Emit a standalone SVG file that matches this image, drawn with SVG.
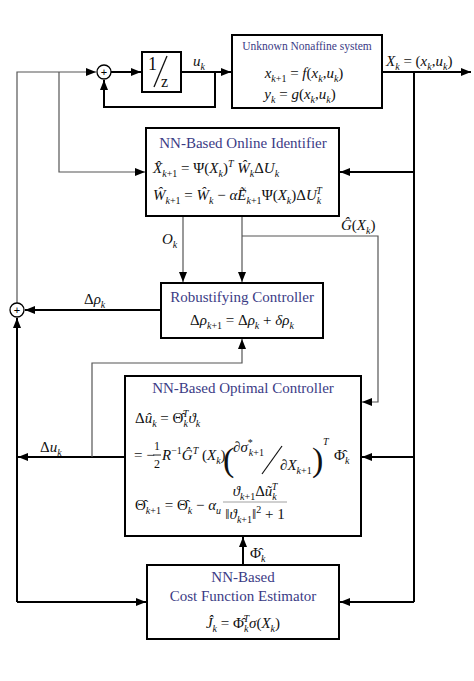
<svg xmlns="http://www.w3.org/2000/svg" width="474" height="681" viewBox="0 0 474 681">
<defs>
<marker id="a" viewBox="0 0 10 8" refX="10" refY="4" markerWidth="10" markerHeight="8" orient="auto" markerUnits="userSpaceOnUse"><path d="M0,0 L10,4 L0,8 z" fill="#000"/></marker>
</defs>
<style>
.ln{fill:none;stroke:#000;stroke-width:2}
.gl{fill:none;stroke:#555;stroke-width:1.2}
.bx{fill:#fff;stroke:#000;stroke-width:2}
.sum{fill:#fff;stroke:#000;stroke-width:1.3}
.t{font-family:"Liberation Serif","Times New Roman",serif;font-size:15px;fill:#3b3b85}
.m{font-family:"Liberation Serif","Times New Roman",serif;font-size:15px;fill:#111}
.i{font-style:italic}
.sb{font-size:10px;baseline-shift:-4px}
.sp{font-size:10px;baseline-shift:6px}
</style>
<rect width="474" height="681" fill="#fff"/>

<g id="connectors">
<path class="ln" d="M111,72 H141" marker-end="url(#a)"/>
<path class="ln" d="M181,72 H231" marker-end="url(#a)"/>
<path class="ln" d="M215,72 V107 H104 V80" marker-end="url(#a)"/>
<path class="ln" d="M382,72 H471" marker-end="url(#a)"/>
<path class="ln" d="M414,72 V602"/>
<path class="ln" d="M414,172 H340" marker-end="url(#a)"/>
<path class="ln" d="M414,457 H362" marker-end="url(#a)"/>
<path class="ln" d="M414,602 H340" marker-end="url(#a)"/>
<path class="ln" d="M161,310 H25" marker-end="url(#a)"/>
<path class="ln" d="M125,457 H18" marker-end="url(#a)"/>
<path class="ln" d="M17,602 V318" marker-end="url(#a)"/>
<path class="ln" d="M17,602 H146" marker-end="url(#a)"/>
<path class="ln" d="M243,565 V537" marker-end="url(#a)"/>
<path class="gl" d="M17,303 V72 H96" marker-end="url(#a)"/>
<path class="gl" d="M59,72 V172 H145" marker-end="url(#a)"/>
<path class="gl" d="M183,216 V282" marker-end="url(#a)"/>
<path class="gl" d="M242,216 V282" marker-end="url(#a)"/>
<path class="gl" d="M242,236 H378 V402 H362" marker-end="url(#a)"/>
<path class="gl" d="M92,457 V363 H242 V339" marker-end="url(#a)"/>
<text class="m i" x="193" y="66">u<tspan class="sb">k</tspan></text>
<text class="m" x="386" y="66"><tspan class="i">X</tspan><tspan class="sb i">k</tspan> = (<tspan class="i">x</tspan><tspan class="sb i">k</tspan>,<tspan class="i">u</tspan><tspan class="sb i">k</tspan>)</text>
<text class="m" x="162" y="244"><tspan class="i">O</tspan><tspan class="sb i">k</tspan></text>
<text class="m" x="341" y="230"><tspan class="i">G&#x302;</tspan>(<tspan class="i">X</tspan><tspan class="sb i">k</tspan>)</text>
<text class="m" x="84" y="304">Δ<tspan class="i">ρ</tspan><tspan class="sb i">k</tspan></text>
<text class="m" x="40" y="452">Δ<tspan class="i">u</tspan><tspan class="sb i">k</tspan></text>
<text class="m" x="250" y="558">Φ&#x302;<tspan class="sb i">k</tspan></text>
</g>

<g id="sum1">
<circle class="sum" cx="104" cy="72" r="7"/>
<text x="104" y="76" text-anchor="middle" font-family="Liberation Sans, Arial, sans-serif" font-size="11" fill="#000">+</text>
</g>

<g id="sum2">
<circle class="sum" cx="17" cy="310" r="7"/>
<text x="17" y="314" text-anchor="middle" font-family="Liberation Sans, Arial, sans-serif" font-size="11" fill="#000">+</text>
</g>

<g id="delay">
<rect class="bx" x="142" y="52" width="39" height="40"/>
<text class="m" x="148" y="70" style="font-size:18px">1</text>
<line x1="167" y1="56" x2="154" y2="87" stroke="#111" stroke-width="1.3"/>
<text class="m" x="161" y="87" style="font-size:16px">z</text>
</g>

<g id="system">
<rect class="bx" x="232" y="35" width="150" height="73"/>
<text class="t" x="307" y="50" text-anchor="middle" style="font-size:11.5px">Unknown Nonaffine system</text>
<text class="m" x="304" y="78" text-anchor="middle"><tspan class="i">x</tspan><tspan class="sb"><tspan class="i">k</tspan>+1</tspan> = <tspan class="i">f</tspan>(<tspan class="i">x</tspan><tspan class="sb i">k</tspan>,<tspan class="i">u</tspan><tspan class="sb i">k</tspan>)</text>
<text class="m" x="300" y="99" text-anchor="middle"><tspan class="i">y</tspan><tspan class="sb i">k</tspan> = <tspan class="i">g</tspan>(<tspan class="i">x</tspan><tspan class="sb i">k</tspan>,<tspan class="i">u</tspan><tspan class="sb i">k</tspan>)</text>
</g>

<g id="identifier">
<rect class="bx" x="146" y="128" width="193" height="88"/>
<text class="t" x="243" y="148" text-anchor="middle">NN-Based Online Identifier</text>
<text class="m" x="153" y="173"><tspan class="i">X&#x302;</tspan><tspan class="sb"><tspan class="i">k</tspan>+1</tspan> = Ψ(<tspan class="i">X</tspan><tspan class="sb i">k</tspan>)<tspan class="sp i">T</tspan> <tspan class="i">W&#x302;</tspan><tspan class="sb i">k</tspan>Δ<tspan class="i">U</tspan><tspan class="sb i">k</tspan></text>
<text class="m" x="153" y="200"><tspan class="i">W&#x302;</tspan><tspan class="sb"><tspan class="i">k</tspan>+1</tspan> = <tspan class="i">W&#x302;</tspan><tspan class="sb i">k</tspan> − <tspan class="i">αE&#x303;</tspan><tspan class="sb"><tspan class="i">k</tspan>+1</tspan>Ψ(<tspan class="i">X</tspan><tspan class="sb i">k</tspan>)Δ<tspan class="i">U</tspan><tspan class="sb i">k</tspan><tspan class="sp i" dx="-5">T</tspan></text>
</g>

<g id="robust">
<rect class="bx" x="161" y="283" width="162" height="55"/>
<text class="t" x="242" y="302" text-anchor="middle">Robustifying Controller</text>
<text class="m" x="242" y="325" text-anchor="middle">Δ<tspan class="i">ρ</tspan><tspan class="sb"><tspan class="i">k</tspan>+1</tspan> = Δ<tspan class="i">ρ</tspan><tspan class="sb i">k</tspan> + <tspan class="i">δρ</tspan><tspan class="sb i">k</tspan></text>
</g>

<g id="optimal">
<rect class="bx" x="125" y="376" width="236" height="160"/>
<text class="t" x="243" y="393" text-anchor="middle">NN-Based Optimal Controller</text>
<text class="m" x="135" y="423">Δ<tspan class="i">u&#x302;</tspan><tspan class="sb i">k</tspan> = Θ&#x302;<tspan class="sb i">k</tspan><tspan class="sp i" dx="-5">T</tspan><tspan class="i">ϑ</tspan><tspan class="sb i">k</tspan></text>
<text class="m" x="134" y="460">= −</text>
<text class="m" x="154" y="450" style="font-size:12px">1</text>
<line x1="153" y1="455" x2="161" y2="455" stroke="#111" stroke-width="0.9"/>
<text class="m" x="154" y="468" style="font-size:12px">2</text>
<text class="m" x="162" y="460"><tspan class="i">R</tspan><tspan class="sp">−1</tspan><tspan class="i">G&#x302;</tspan><tspan class="sp i">T</tspan> (<tspan class="i">X</tspan><tspan class="sb i">k</tspan>)</text>
<text class="m" x="223" y="471" style="font-size:34px">(</text>
<text class="m" x="233" y="452">∂<tspan class="i">σ</tspan><tspan class="sp">*</tspan><tspan class="sb" dx="-4"><tspan class="i">k</tspan>+1</tspan></text>
<line x1="282" y1="446" x2="262" y2="474" stroke="#111" stroke-width="1.2"/>
<text class="m" x="280" y="470">∂<tspan class="i">X</tspan><tspan class="sb"><tspan class="i">k</tspan>+1</tspan></text>
<text class="m" x="312" y="471" style="font-size:34px">)</text>
<text class="m i" x="323" y="445" style="font-size:10px">T</text>
<text class="m" x="334" y="460">Φ&#x302;<tspan class="sb i">k</tspan></text>
<text class="m" x="135" y="510">Θ&#x302;<tspan class="sb"><tspan class="i">k</tspan>+1</tspan> = Θ&#x302;<tspan class="sb i">k</tspan> − <tspan class="i">α</tspan><tspan class="sb i">u</tspan></text>
<text class="m" x="255" y="496" text-anchor="middle"><tspan class="i">ϑ</tspan><tspan class="sb"><tspan class="i">k</tspan>+1</tspan>Δ<tspan class="i">u&#x303;</tspan><tspan class="sb i">k</tspan><tspan class="sp i" dx="-5">T</tspan></text>
<line x1="223" y1="502" x2="287" y2="502" stroke="#888" stroke-width="0.8"/>
<text class="m" x="255" y="519" text-anchor="middle">‖<tspan class="i">ϑ</tspan><tspan class="sb"><tspan class="i">k</tspan>+1</tspan>‖<tspan class="sp">2</tspan> + 1</text>
</g>

<g id="estimator">
<rect class="bx" x="147" y="565" width="192" height="74"/>
<text class="t" x="243" y="582" text-anchor="middle">NN-Based</text>
<text class="t" x="243" y="601" text-anchor="middle">Cost Function Estimator</text>
<text class="m" x="243" y="628" text-anchor="middle"><tspan class="i">J&#x302;</tspan><tspan class="sb i">k</tspan> = Φ&#x302;<tspan class="sb i">k</tspan><tspan class="sp i" dx="-5">T</tspan><tspan class="i">σ</tspan>(<tspan class="i">X</tspan><tspan class="sb i">k</tspan>)</text>
</g>
</svg>
